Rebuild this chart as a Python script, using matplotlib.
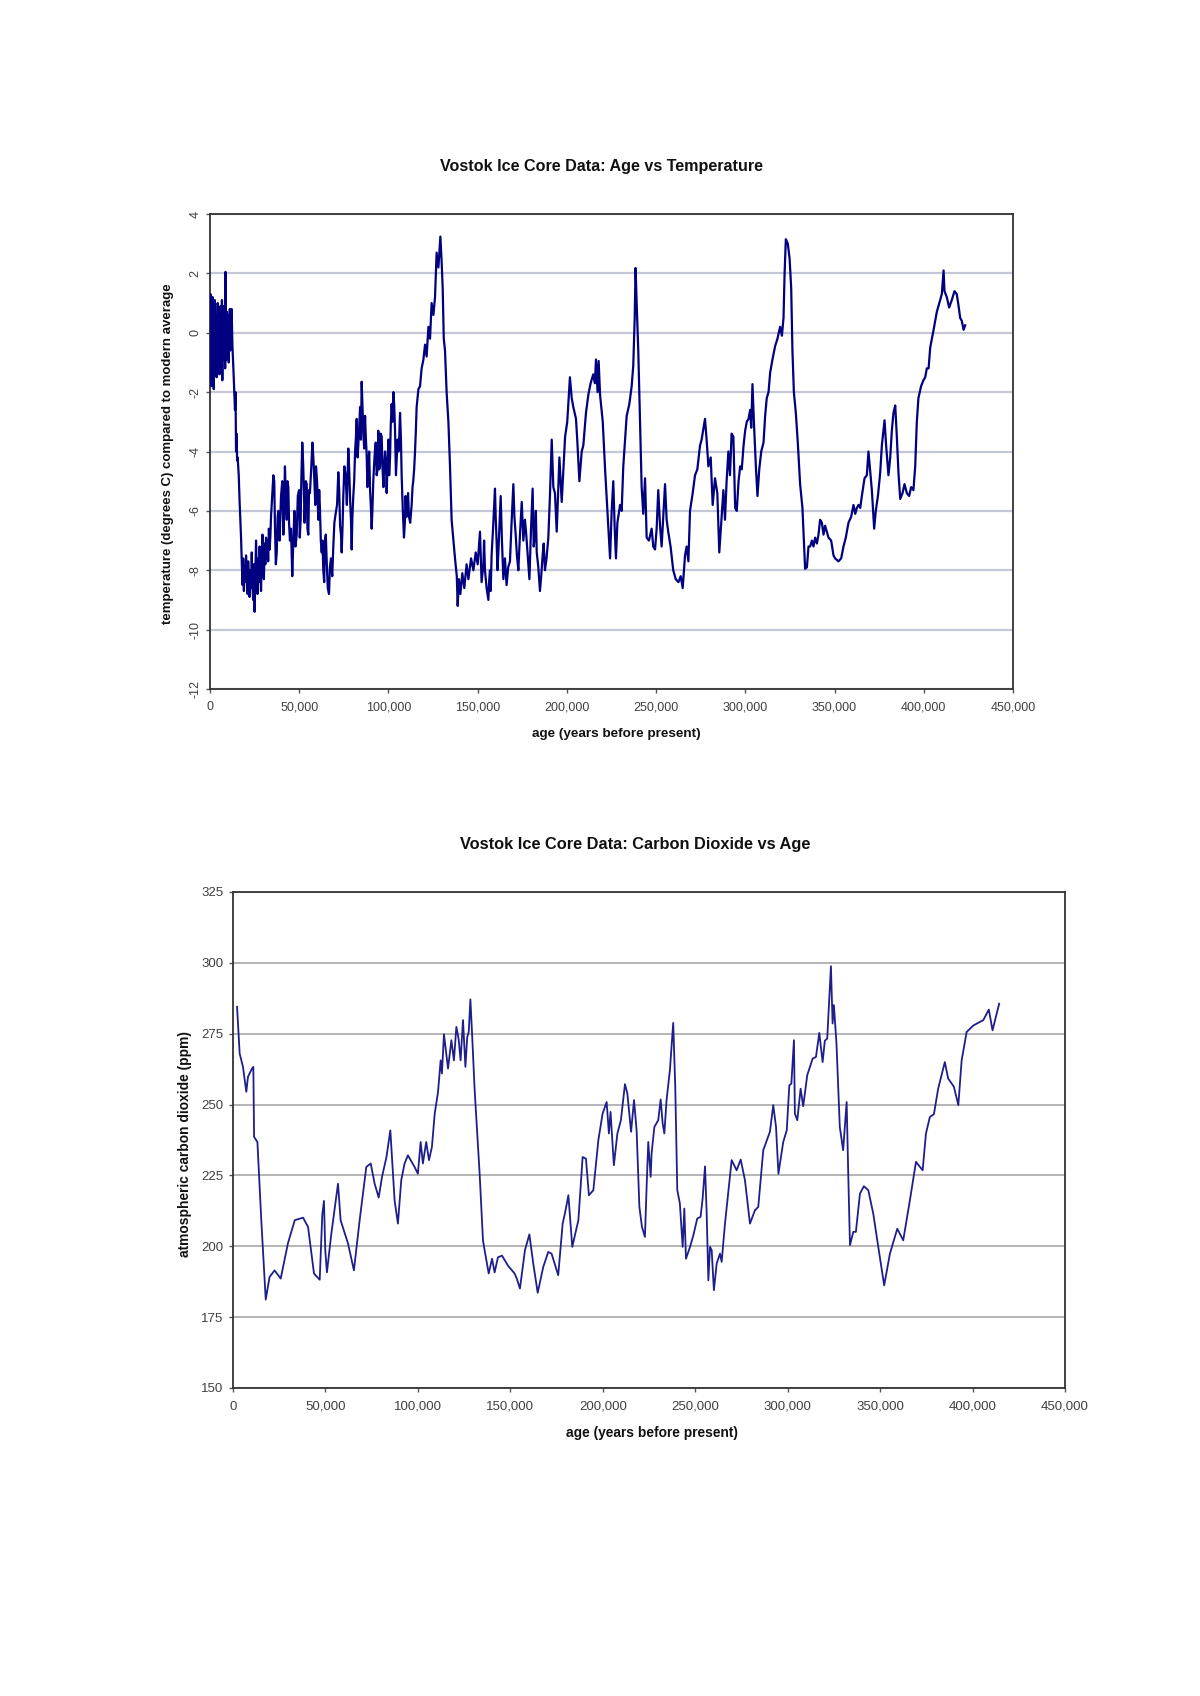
import matplotlib
matplotlib.use("Agg")
import matplotlib.pyplot as plt
from matplotlib.ticker import FuncFormatter, MultipleLocator

plt.rcParams['font.family'] = ['Liberation Sans', 'DejaVu Sans']
plt.rcParams['axes.unicode_minus'] = False

# ---------------- Temperature data (age in thousand years, temp in deg C) ----------------
temp_age_holocene = [0.1, 0.3, 0.5, 0.7, 0.9, 1.1, 1.3, 1.5, 1.7, 1.9,
                     2.1, 2.3, 2.5, 2.7, 2.9, 3.1, 3.3, 3.5, 3.7, 3.9,
                     4.1, 4.3, 4.5, 4.7, 4.9, 5.1, 5.3, 5.5, 5.7, 5.9,
                     6.1, 6.3, 6.5, 6.7, 6.9, 7.1, 7.3, 7.5, 7.7, 7.9,
                     8.1, 8.3, 8.5, 8.7, 8.9, 9.1, 9.3, 9.5, 9.7, 9.9,
                     10.1, 10.3, 10.5, 10.7, 10.9, 11.1, 11.3, 11.5, 11.7, 11.9]
temp_val_holocene = [-0.3, 1.3, -1.6, 0.8, -1.8, 0.2, -0.9, 1.2, -1.2, 0.4,
                     -1.9, 0.9, -0.6, 1.1, -1.3, 0.3, -0.8, 0.6, -1.5, 0.1,
                     -0.4, 1.0, -1.1, 0.5, -0.7, 0.8, -1.4, 0.2, -0.5, 0.9,
                     -1.0, 0.4, -0.3, 1.1, -1.6, 0.3, -0.6, 0.9, -0.9, 0.5,
                     -0.2, 0.6, -1.2, 2.05, -0.7, 0.3, -0.9, 0.7, -0.4, 0.1,
                     -0.8, 0.4, -1.0, 0.6, -0.3, 0.8, -0.6, 0.5, -0.2, 0.7]

temp_age_glacial1 = [12.1, 12.6, 13.1, 13.6, 14.0, 14.3, 14.6, 14.9, 15.2, 15.5,
                     15.8, 16.1, 16.6, 17.0, 17.4, 17.9, 18.3,
                     18.6, 19.0, 19.4, 19.8, 20.2, 20.6, 21.0, 21.4, 21.8, 22.2,
                     22.6, 23.0, 23.4, 23.8, 24.2, 24.6, 25.0, 25.4, 25.8, 26.2,
                     26.6, 27.0, 27.4, 27.8, 28.2, 28.6, 29.0, 29.4, 29.8, 30.2,
                     30.6, 31.0, 31.4, 31.8, 32.2, 32.6, 33.0, 33.4, 33.8, 34.2]
temp_val_glacial1 = [0.8, -0.5, -1.2, -2.0, -2.6, -2.0, -4.0, -3.4, -4.3, -4.2,
                     -4.5, -4.8, -5.7, -6.3, -6.9, -7.9, -8.5,
                     -7.6, -8.7, -7.9, -8.4, -7.5, -8.2, -8.8, -7.7, -8.3, -8.9,
                     -8.0, -8.6, -7.4, -8.5, -9.0, -7.8, -9.4, -8.2, -7.0, -8.1,
                     -8.8, -7.6, -8.4, -7.2, -8.0, -8.7, -7.5, -6.8, -7.9, -8.3,
                     -7.1, -7.8, -6.9, -7.6, -7.0, -7.7, -6.6, -7.3, -6.9, -6.2]

temp_age_glacial2 = [35.5, 36.4, 37.4, 38.3, 39.8, 41.1, 42.0, 43.0, 43.9, 44.8,
                     46.1, 47.3, 48.6, 49.9, 50.8, 51.7, 52.7, 53.2, 54.2, 55.1,
                     56.0, 57.4, 58.5, 59.4, 60.7, 61.6, 62.6, 63.5, 64.4, 65.4,
                     66.7, 67.8, 69.1, 70.4, 71.9, 72.9, 73.8, 74.7, 76.0, 77.5,
                     78.5, 79.4, 80.3, 81.3, 82.2, 83.1, 84.1, 85.0, 85.9, 86.9,
                     87.8, 88.7, 89.7, 90.6, 91.5, 92.5, 93.4, 94.3, 95.3, 96.2,
                     97.2, 98.1, 99.0, 100.0, 100.9, 101.8, 102.8, 103.7, 104.6, 105.6,
                     106.5, 107.4, 108.7, 109.6, 110.6, 111.5, 113.0, 113.9, 114.9, 115.8]
temp_val_glacial2 = [-4.8, -6.5, -7.4, -6.0, -5.5, -6.8, -4.5, -6.3, -5.2, -7.0,
                     -8.2, -6.0, -6.8, -5.3, -6.3, -3.7, -5.5, -6.0, -5.1, -6.8,
                     -5.4, -3.7, -5.0, -4.5, -6.3, -5.9, -7.4, -8.0, -7.0, -7.7,
                     -8.8, -7.6, -7.2, -6.1, -4.7, -6.5, -7.4, -5.5, -4.8, -3.9,
                     -5.6, -7.3, -5.5, -4.0, -2.9, -3.8, -2.5, -1.65, -3.3, -2.8,
                     -4.1, -4.7, -5.3, -6.6, -5.0, -3.9, -4.8, -3.3, -4.5, -3.5,
                     -5.2, -4.0, -5.4, -3.6, -4.2, -2.4, -2.0, -3.3, -4.3, -4.0,
                     -2.7, -4.8, -6.9, -5.5, -5.7, -6.2, -5.8, -5.0, -4.0, -2.5]

# additional readings of the dense, noisy stretch 36k-115k
temp_age_glacial2_b = [36.0, 36.9, 37.9, 39.0, 40.5, 41.5, 42.5, 43.4, 44.3, 45.4,
                       46.7, 47.9, 49.2, 50.3, 51.2, 52.2, 53.0, 53.7, 54.6, 55.5,
                       56.7, 57.9, 59.0, 60.0, 61.2, 62.1, 63.0, 64.0, 64.9, 66.0,
                       67.2, 68.5, 69.7, 71.2, 72.4, 73.4, 74.3, 75.3, 76.7, 78.0,
                       79.0, 79.8, 80.8, 81.8, 82.7, 83.6, 84.6, 85.4, 86.4, 87.3,
                       88.2, 89.2, 90.1, 91.0, 92.0, 92.9, 93.9, 94.8, 95.7, 96.7,
                       97.6, 98.6, 99.5, 100.4, 101.3, 102.3, 103.2, 104.2, 105.1, 106.0,
                       107.0, 108.0, 109.2, 110.1, 111.0, 112.2, 113.5, 114.4, 115.3]
temp_val_glacial2_b = [-5.0, -7.8, -6.2, -7.0, -5.0, -6.0, -5.6, -5.0, -6.4, -6.6,
                       -7.0, -7.2, -5.5, -6.9, -4.9, -4.4, -6.4, -5.0, -6.6, -5.3,
                       -4.6, -4.2, -5.8, -5.0, -5.3, -7.0, -7.0, -8.4, -6.8, -8.6,
                       -7.9, -8.2, -6.4, -5.8, -5.3, -6.8, -6.5, -4.5, -5.8, -4.6,
                       -6.3, -6.2, -5.0, -3.5, -4.2, -3.2, -3.6, -2.4, -3.9, -3.5,
                       -5.2, -4.0, -5.8, -6.0, -4.4, -3.7, -4.6, -4.6, -3.4, -4.6,
                       -4.5, -4.4, -4.4, -4.8, -3.1, -3.0, -2.4, -4.8, -3.6, -3.6,
                       -3.6, -5.9, -6.4, -6.2, -5.4, -6.4, -5.2, -4.6, -3.4]

temp_age_eemian = [116.8, 117.7, 118.6, 119.6, 120.5, 121.4, 122.4, 123.3, 124.2, 125.2,
                   126.1, 127.0, 128.0, 129.1, 129.8, 130.4, 131.0, 131.7, 132.6, 133.6,
                   134.5, 135.4, 136.4, 137.3, 138.3, 138.8, 139.5, 140.3, 141.4, 142.5,
                   143.8, 144.8, 146.3, 147.6, 148.9, 150.0]
temp_val_eemian = [-1.9, -1.8, -1.2, -0.9, -0.4, -0.8, 0.2, -0.2, 1.0, 0.6,
                   1.2, 2.7, 2.2, 3.24, 2.4, 1.5, -0.2, -0.6, -2.0, -3.0,
                   -4.5, -6.3, -7.0, -7.6, -8.2, -9.2, -8.3, -8.8, -8.1, -8.6,
                   -7.8, -8.3, -7.6, -8.0, -7.4, -7.8]

temp_age_mid = [151.3, 153.2, 154.1, 156.0, 156.9, 157.8, 159.7, 160.6, 161.6, 162.9,
                164.4, 166.2, 168.1, 170.0, 171.3, 172.8, 174.7, 176.5, 177.8, 179.0,
                180.8, 182.1, 183.1, 184.9, 186.4, 187.7, 189.6, 190.5, 191.5, 192.4,
                193.3, 194.3, 195.8, 197.1, 199.0, 200.2, 201.7, 202.7, 203.6, 205.1,
                205.8, 207.0, 208.3, 209.2, 210.7, 212.0, 213.3, 214.8, 215.7, 216.3,
                217.2, 217.8, 218.6, 220.1, 221.4, 222.7, 224.2, 225.1, 226.0, 226.8,
                227.5, 228.3, 229.8, 230.7, 231.6, 233.5, 235.0, 236.3, 237.2, 238.0,
                238.5, 239.1, 240.0, 241.0, 241.9, 242.8, 243.8, 244.7, 246.0, 247.5,
                248.4, 249.4, 250.3, 251.2, 252.2, 253.1, 254.0, 255.0, 255.9, 256.8,
                258.1, 259.6, 261.0, 262.5, 263.8, 264.9, 266.2, 267.1, 268.1, 269.0,
                270.5, 271.8, 273.1, 274.6, 275.5, 277.4, 278.3, 279.3, 280.6, 281.7,
                283.0, 284.3, 285.4, 286.7, 287.7, 288.6, 289.5, 290.5, 291.4, 292.3,
                293.3]
temp_val_mid = [-6.7, -7.8, -8.0, -9.0, -8.0, -7.5, -5.25, -7.0, -7.4, -5.5,
                -8.3, -8.5, -7.7, -5.1, -6.8, -8.0, -5.7, -6.3, -7.3, -8.3,
                -5.25, -6.8, -7.4, -8.7, -7.5, -8.0, -6.9, -5.5, -3.6, -5.2,
                -5.4, -6.7, -4.2, -5.7, -3.5, -3.0, -1.5, -2.2, -2.5, -2.9,
                -3.6, -5.0, -4.0, -3.8, -2.7, -2.1, -1.7, -1.4, -1.7, -0.9,
                -2.0, -0.95, -2.1, -3.0, -4.6, -6.0, -7.6, -6.0, -5.0, -6.6,
                -7.6, -6.4, -5.8, -6.0, -4.5, -2.8, -2.4, -1.8, -1.1, 0.5,
                2.18, 1.0, -0.6, -3.0, -5.2, -6.1, -4.9, -6.9, -7.0, -6.6,
                -7.2, -7.3, -6.6, -5.3, -6.5, -7.2, -6.2, -5.1, -6.3, -6.7,
                -7.2, -8.0, -8.3, -8.4, -8.2, -8.6, -7.5, -7.2, -7.7, -6.0,
                -5.4, -4.8, -4.6, -3.8, -3.6, -2.9, -3.6, -4.5, -4.2, -5.8,
                -4.9, -5.4, -7.4, -6.2, -5.3, -6.3, -5.0, -4.0, -4.8, -3.4,
                -3.5]

# additional readings of the noisy stretch 152k-189k
temp_age_mid_b = [152.2, 153.6, 155.0, 156.4, 157.3, 158.7, 160.1, 161.1, 162.2, 163.6,
                  165.3, 167.1, 169.0, 170.6, 172.0, 173.7, 175.6, 177.1, 178.4, 179.9,
                  181.4, 182.6, 184.0, 185.6, 187.0, 188.6]
temp_val_mid_b = [-8.4, -7.0, -8.6, -8.4, -8.7, -6.5, -6.2, -8.0, -6.5, -7.0,
                  -7.6, -7.9, -6.4, -6.2, -7.5, -6.8, -7.0, -6.7, -7.8, -6.6,
                  -7.2, -6.0, -7.9, -8.2, -7.1, -7.6]

temp_age_old = [294.3, 295.2, 296.2, 297.1, 298.0, 299.0, 299.9, 300.8, 301.8, 302.7,
                303.3, 304.0, 304.8, 305.9, 306.8, 307.8, 308.9, 310.2, 311.1, 312.0,
                313.0, 313.9, 315.2, 316.7, 318.0, 319.5, 320.5, 321.4, 322.0, 322.7,
                323.8, 324.8, 325.7, 326.4, 327.2, 328.3, 329.4, 330.7, 332.0, 332.8,
                333.5, 334.5, 335.4, 336.3, 337.3, 338.2, 339.1, 340.1, 341.0, 341.9,
                342.9, 343.8, 344.7, 346.6, 348.1, 349.4, 350.3, 352.2, 353.7, 355.0,
                356.3, 357.8, 359.3, 360.6, 361.6, 362.5, 363.4, 364.4, 365.3, 366.8,
                368.1, 369.0, 370.0, 370.9, 372.2, 373.1, 374.3, 375.6, 376.5, 378.0,
                378.9, 380.2, 381.2, 382.1, 383.0, 384.0, 384.9, 385.8, 386.8, 388.1,
                389.2, 390.5, 391.8, 392.9, 394.2, 395.2, 396.1, 397.0, 398.5, 399.8,
                400.8, 401.7, 402.7, 403.6, 405.5, 407.3, 409.2, 410.1, 411.1, 411.6,
                412.9, 414.2, 415.7, 417.2, 418.5, 419.5, 420.4, 421.3, 422.3, 423.2]
temp_val_old = [-5.9, -6.0, -5.0, -4.5, -4.6, -3.8, -3.3, -3.0, -2.9, -2.6,
                -3.2, -1.73, -3.0, -4.5, -5.5, -4.6, -4.0, -3.7, -2.8, -2.2,
                -2.0, -1.35, -0.9, -0.45, -0.2, 0.2, -0.1, 0.5, 2.0, 3.15,
                3.0, 2.5, 1.5, -0.6, -2.0, -2.7, -3.7, -5.1, -5.9, -7.0,
                -7.95, -7.9, -7.2, -7.2, -7.0, -7.2, -6.9, -7.1, -6.8, -6.3,
                -6.4, -6.8, -6.5, -6.9, -7.0, -7.5, -7.6, -7.7, -7.6, -7.2,
                -6.9, -6.4, -6.2, -5.8, -6.1, -5.9, -5.8, -5.9, -5.5, -4.9,
                -4.8, -4.0, -4.7, -5.3, -6.6, -6.0, -5.5, -4.7, -3.8, -2.95,
                -3.8, -4.8, -4.2, -3.3, -2.7, -2.45, -3.5, -4.7, -5.6, -5.4,
                -5.1, -5.4, -5.5, -5.2, -5.3, -4.5, -3.0, -2.2, -1.8, -1.6,
                -1.5, -1.2, -1.2, -0.5, 0.1, 0.7, 1.1, 1.3, 2.1, 1.4,
                1.2, 0.85, 1.1, 1.4, 1.3, 0.9, 0.5, 0.4, 0.1, 0.25]

# ---------------- CO2 data (age in thousand years, ppm) ----------------
co2_age_a = [2.2, 3.6, 5.4, 7.2, 8.1, 10.3, 11.0, 11.4, 13.2, 15.3,
             17.7, 19.8, 22.5, 25.8, 29.7, 33.4, 37.9, 40.6, 43.8, 46.9,
             48.3, 49.2, 49.9, 50.8, 53.2, 56.8, 58.2, 62.2, 65.4, 68.5,
             72.1, 74.5, 76.6, 78.8, 80.6, 83.0, 85.1, 86.5, 87.4, 89.2,
             91.0, 92.8, 94.6, 98.2, 100.0, 101.5, 102.7, 104.5, 106.0, 107.6,
             109.1, 110.9, 112.3, 113.0, 114.1, 116.3, 118.1, 119.5, 120.8, 122.0,
             123.1, 124.4, 125.7, 126.7, 127.5, 128.4, 129.3, 130.7, 133.4, 135.2,
             136.1, 138.3, 140.1, 141.5, 143.3, 145.5, 148.7]
co2_val_a = [284.5, 268.0, 263.3, 254.5, 259.8, 262.7, 263.3, 238.6, 236.8, 209.2,
             181.2, 189.2, 191.5, 188.6, 201.0, 209.2, 210.1, 206.8, 190.4, 188.2,
             211.3, 216.0, 198.6, 190.8, 204.5, 222.1, 209.2, 201.0, 191.5, 209.2,
             228.0, 229.2, 222.1, 217.2, 224.5, 231.5, 240.9, 225.6, 216.2, 208.0,
             223.3, 229.2, 232.1, 228.0, 225.6, 236.8, 229.2, 236.8, 230.4, 235.1,
             246.8, 254.5, 265.6, 261.0, 274.8, 262.7, 272.7, 265.6, 277.4, 273.3,
             265.6, 279.8, 263.3, 273.9, 275.6, 287.1, 275.1, 255.1, 225.6, 202.1,
             198.6, 190.4, 195.6, 190.8, 196.1, 196.7, 193.2]

co2_age_b = [152.3, 153.5, 155.2, 157.9, 160.3, 162.4, 164.8, 167.8, 170.5, 172.3,
             175.9, 178.3, 179.5, 181.4, 183.5, 186.8, 189.1, 190.9, 192.5, 194.9,
             197.6, 199.9, 202.1, 203.3, 204.2, 206.0, 207.9, 209.8, 212.0, 213.3,
             215.3, 216.9, 218.3, 219.8, 221.2, 222.8, 223.7, 224.6, 225.9, 226.4,
             227.9, 230.0, 231.3, 232.4, 233.3, 234.5, 236.3, 238.1, 239.2, 240.3,
             241.7, 243.2, 244.1, 245.0, 247.2, 249.0, 251.1, 252.9, 254.0, 255.3,
             256.2, 257.1, 258.0, 258.9, 260.1, 261.6, 263.4, 264.3, 266.1, 269.7,
             272.4, 274.6, 276.9, 279.6, 282.3, 284.1, 286.8, 290.4, 292.2, 293.7,
             295.0, 297.6, 299.5, 300.9, 302.0]
co2_val_b = [190.4, 188.6, 185.1, 198.6, 204.2, 193.9, 183.6, 192.7, 198.0, 197.4,
             189.8, 208.0, 211.5, 218.0, 199.8, 209.2, 231.5, 230.9, 218.0, 219.8,
             237.4, 246.8, 250.9, 239.8, 247.4, 228.6, 239.8, 244.5, 257.2, 253.9,
             240.4, 251.6, 240.9, 213.9, 206.8, 203.3, 220.9, 236.8, 224.5, 232.7,
             242.1, 244.5, 251.8, 243.3, 239.8, 251.6, 262.1, 278.8, 256.3, 219.8,
             215.1, 199.8, 213.3, 195.6, 199.8, 203.9, 209.8, 210.4, 216.8, 228.2,
             211.5, 188.0, 199.8, 198.6, 184.5, 193.9, 197.4, 194.5, 208.0, 230.4,
             226.8, 230.6, 223.3, 208.0, 212.7, 213.9, 233.9, 240.4, 249.8, 242.1,
             225.6, 236.8, 240.9, 256.8, 257.4]

co2_age_c = [303.4, 303.9, 305.2, 307.0, 308.4, 310.6, 313.5, 315.3, 317.1, 318.9,
             320.1, 321.4, 323.4, 324.3, 325.0, 326.4, 328.2, 330.0, 331.9, 332.8,
             333.7, 335.5, 336.9, 339.1, 341.2, 343.6, 346.3, 349.0, 352.2, 355.3,
             359.3, 362.5, 366.1, 369.4, 373.0, 374.8, 376.9, 379.1, 381.4, 385.0,
             386.8, 389.9, 392.3, 394.1, 396.8, 400.4, 405.8, 408.8, 410.8, 414.4]
co2_val_c = [272.7, 246.8, 244.5, 255.6, 249.4, 260.4, 266.2, 266.8, 275.3, 265.0,
             272.5, 273.3, 298.8, 278.6, 285.1, 271.5, 242.1, 233.9, 250.9, 224.5,
             200.4, 205.1, 205.1, 218.6, 221.2, 219.8, 211.5, 199.8, 186.2, 197.4,
             206.2, 202.1, 216.2, 229.8, 226.8, 239.8, 245.6, 246.6, 255.6, 265.0,
             259.2, 256.3, 249.8, 265.6, 275.6, 277.9, 279.8, 283.5, 276.2, 285.6]

# ---------------- assemble series ----------------
temp_pairs = sorted(zip(temp_age_holocene + temp_age_glacial1 + temp_age_glacial2 +
                        temp_age_glacial2_b + temp_age_eemian + temp_age_mid +
                        temp_age_mid_b + temp_age_old,
                        temp_val_holocene + temp_val_glacial1 + temp_val_glacial2 +
                        temp_val_glacial2_b + temp_val_eemian + temp_val_mid +
                        temp_val_mid_b + temp_val_old))
temp_years = [a * 1000 for a, _ in temp_pairs]
temp_val = [v for _, v in temp_pairs]

co2_years = [a * 1000 for a in co2_age_a + co2_age_b + co2_age_c]
co2_val = co2_val_a + co2_val_b + co2_val_c

# ---------------- Figure ----------------
W, H = 1200, 1696
fig = plt.figure(figsize=(12, 16.96), dpi=100)

def frac_axes(left, top, right, bottom):
    return fig.add_axes([left / W, 1 - bottom / H, (right - left) / W, (bottom - top) / H])

tick_color = '#404040'
comma_fmt = FuncFormatter(lambda v, p: '{:,.0f}'.format(v))

# ---- Top: temperature ----
ax1 = frac_axes(210, 214, 1013, 689)
ax1.plot(temp_years, temp_val, color='#000080', lw=1.6, zorder=3)
ax1.set_xlim(0, 450000)
ax1.set_ylim(-12, 4)
ax1.xaxis.set_major_locator(MultipleLocator(50000))
ax1.yaxis.set_major_locator(MultipleLocator(2))
ax1.xaxis.set_major_formatter(comma_fmt)
ax1.grid(axis='y', color='#c3c7d6', lw=1.6, zorder=1)
ax1.set_axisbelow(True)
for lbl in ax1.get_yticklabels():
    lbl.set_rotation(90)
    lbl.set_va('center')
ax1.tick_params(axis='both', direction='out', length=3, width=1, colors='#555555',
                labelcolor=tick_color, labelsize=9)
ax1.tick_params(axis='x', pad=6)
ax1.tick_params(axis='y', pad=3)
for s in ax1.spines.values():
    s.set_color('#333333')
    s.set_linewidth(1.3)

# ---- Bottom: CO2 ----
ax2 = frac_axes(233, 892, 1065, 1388)
ax2.plot(co2_years, co2_val, color='#1e1e8c', lw=1.3, zorder=3)
ax2.set_xlim(0, 450000)
ax2.set_ylim(150, 325)
ax2.xaxis.set_major_locator(MultipleLocator(50000))
ax2.yaxis.set_major_locator(MultipleLocator(25))
ax2.xaxis.set_major_formatter(comma_fmt)
ax2.grid(axis='y', color='#a8a8a8', lw=1.2, zorder=1)
ax2.set_axisbelow(True)
ax2.tick_params(axis='both', direction='out', length=3, width=1, colors='#555555',
                labelcolor=tick_color, labelsize=9.5)
ax2.tick_params(axis='x', pad=6)
ax2.tick_params(axis='y', pad=4)
for s in ax2.spines.values():
    s.set_color('#333333')
    s.set_linewidth(1.3)

# ---- Titles and labels ----
fig.text(601 / W, 1 - 166 / H, 'Vostok Ice Core Data: Age vs Temperature',
         ha='center', va='center', fontsize=11.6, fontweight='bold', color='#111111')
fig.text(616 / W, 1 - 734 / H, 'age (years before present)',
         ha='center', va='center', fontsize=9.7, fontweight='bold', color='#111111')
fig.text(168 / W, 1 - 454 / H, 'temperature (degrees C) compared to modern average',
         ha='center', va='center', rotation=90, fontsize=9.5, fontweight='bold',
         color='#111111')

fig.text(635 / W, 1 - 844 / H, 'Vostok Ice Core Data: Carbon Dioxide vs Age',
         ha='center', va='center', fontsize=11.8, fontweight='bold', color='#111111')
fig.text(652 / W, 1 - 1433 / H, 'age (years before present)',
         ha='center', va='center', fontsize=9.9, fontweight='bold', color='#111111')
fig.text(185 / W, 1 - 1144 / H, 'atmospheric carbon dioxide (ppm)',
         ha='center', va='center', rotation=90, fontsize=9.9, fontweight='bold',
         color='#111111')

fig.savefig('out.png', dpi=100, facecolor='white')
